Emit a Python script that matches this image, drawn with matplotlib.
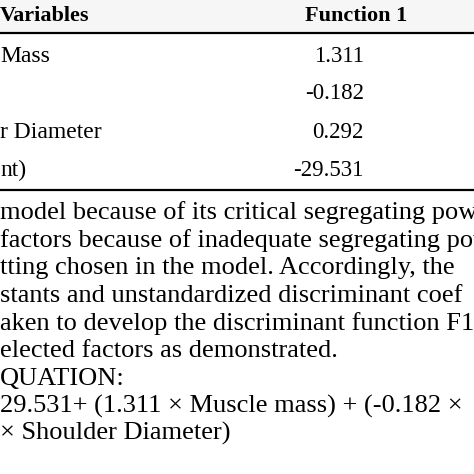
import matplotlib.pyplot as plt

variables = ["Mass", "", "r Diameter", "nt)"]
values = ["1.311", "-0.182", "0.292", "-29.531"]
paragraph = [
    "model because of its critical segregating pow",
    "factors because of inadequate segregating pow",
    "tting chosen in the model. Accordingly, the",
    "stants and unstandardized discriminant coef",
    "aken to develop the discriminant function F1 a",
    "elected factors as demonstrated.",
    "QUATION:",
    "29.531+ (1.311 × Muscle mass) + (-0.182 ×",
    "× Shoulder Diameter)",
]

fig = plt.figure(figsize=(4.74, 4.74), dpi=100)
ax = fig.add_axes([0, 0, 1, 1])
ax.set_xlim(0, 474)
ax.set_ylim(474, 0)
ax.axis("off")
font = "Liberation Serif"
ax.axhspan(0, 33, color="#f6f6f6", zorder=0)
ax.text(0, 16, "Variables", fontsize=16, fontweight="bold", family=font, va="center", ha="left")
ax.text(407, 16, "Function 1", fontsize=16, fontweight="bold", family=font, va="center", ha="right")
ax.plot([0, 474], [33, 33], color="black", lw=1.6)
rows_y = [56, 93, 132, 170]
for y, v, val in zip(rows_y, variables, values):
    ax.text(0, y, v, fontsize=17, family=font, va="center", ha="left")
    ax.text(364, y, val, fontsize=16.5, family=font, va="center", ha="right")
ax.plot([0, 474], [190, 190], color="black", lw=1.6)
for i, line in enumerate(paragraph):
    ax.text(0, 213 + i * 27.6, line, fontsize=19, family=font, va="center", ha="left")
fig.savefig("out.png", dpi=100)
